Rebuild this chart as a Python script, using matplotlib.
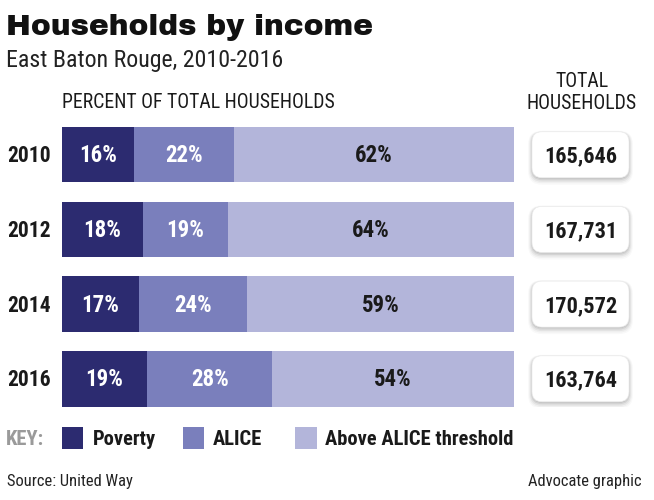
import matplotlib
matplotlib.use("Agg")
import matplotlib.pyplot as plt
from matplotlib.patches import FancyBboxPatch, Rectangle
from matplotlib.transforms import offset_copy
import numpy as np

years = ["2010", "2012", "2014", "2016"]
poverty = [16, 18, 17, 19]
alice = [22, 19, 24, 28]
above = [62, 64, 59, 54]
totals = ["165,646", "167,731", "170,572", "163,764"]
series_names = ["Poverty", "ALICE", "Above ALICE threshold"]
colors = ["#2c2b70", "#7a7fbc", "#b3b5da"]
label_colors = ["white", "white", "#1a1a1a"]

COND = ["Roboto Condensed", "DejaVu Sans"]
TITLE = ["Archivo Black", "DejaVu Sans"]
DARK = "#1a1a1a"

W, H = 654, 500
fig = plt.figure(figsize=(W / 100, H / 100), dpi=100)
fig.patch.set_facecolor("white")
renderer = fig.canvas.get_renderer()


def fx(px):
    return px / W


def fy(py):
    return 1 - py / H


def fit_size(s, target, family, weight, base=20):
    t = fig.text(0, 0, s, fontsize=base, family=family, fontweight=weight)
    w = t.get_window_extent(renderer).width
    t.remove()
    return base * target / w


def ftext(x, yb, s, size, family=COND, weight="normal", ha="left", color=DARK):
    return fig.text(fx(x), fy(yb), s, fontsize=size, family=family, fontweight=weight,
                    ha=ha, va="baseline", color=color)


# sizes fitted to the reference's measured text widths / cap heights
s_title = fit_size("Households by income", 367, TITLE, "normal")
s_sub = fit_size("East Baton Rouge, 2010-2016", 276, COND, "normal")
s_head = fit_size("PERCENT OF TOTAL HOUSEHOLDS", 273, COND, "normal")
s_src = fit_size("Source: United Way", 126, COND, "normal")
s_key = fit_size("Above ALICE threshold", 188, COND, "bold")
s_year = 15.5
s_pct = 16.5
s_tot = 16

# Bars axes
bar_top = 127
spacing = 74.67
barh_px = 55.5
n = len(years)
bar_bot = bar_top + barh_px + spacing * (n - 1)
bh = barh_px / spacing
half = bh / 2
ax = fig.add_axes([fx(62), fy(bar_bot), fx(514) - fx(62), (bar_bot - bar_top) / H])
ax.set_xlim(0, 1)
ax.set_ylim(n - 1 + half, -half)
ax.axis("off")

cap_off = -7.6  # dots: baseline below the centre line
tr_lab = offset_copy(ax.transData, fig=fig, x=0, y=cap_off, units="dots")

data = np.array([poverty, alice, above], dtype=float)
ypos = np.arange(n)
for i in range(n):
    row = data[:, i]
    frac = row / row.sum()
    left = 0
    for j in range(3):
        ax.barh(ypos[i], frac[j], left=left, height=bh, color=colors[j], linewidth=0)
        ax.text(left + frac[j] / 2, ypos[i], f"{int(row[j])}%", ha="center", va="baseline",
                color=label_colors[j], fontsize=s_pct, fontweight="bold", family=COND,
                transform=tr_lab)
        left += frac[j]
    yc = bar_top + barh_px / 2 + i * spacing
    ftext(7, yc + 7.6, years[i], s_year, weight="bold")

# Totals axes
bx0, bx1 = 532, 629
pad = 8
ax2 = fig.add_axes([fx(bx0 - pad), fy(bar_bot), (bx1 - bx0 + 2 * pad) / W, (bar_bot - bar_top) / H])
ax2.set_xlim(-pad, bx1 - bx0 + pad)
ax2.set_ylim(n - 1 + half, -half)
ax2.axis("off")
bw = bx1 - bx0
boxh = 46 / spacing
asp = 1 / spacing
tr_tot = offset_copy(ax2.transData, fig=fig, x=0, y=cap_off - 0.4, units="dots")
for i in range(n):
    y0 = ypos[i] - boxh / 2
    for (g, dy, a) in [(4, 3.0, 0.025), (3, 2.5, 0.035), (2, 2.0, 0.05), (1, 1.5, 0.07), (0, 1.0, 0.08)]:
        sh = FancyBboxPatch((-g, y0 - g * asp + dy * asp), bw + 2 * g, boxh + 2 * g * asp,
                            boxstyle=f"round,pad=0,rounding_size={10 + g}", mutation_aspect=asp,
                            facecolor="black", edgecolor="none", alpha=a)
        ax2.add_patch(sh)
    box = FancyBboxPatch((0, y0), bw, boxh, boxstyle="round,pad=0,rounding_size=10",
                         mutation_aspect=asp, facecolor="white", edgecolor="#ececec", linewidth=0.5)
    ax2.add_patch(box)
    ax2.text(bw / 2, ypos[i], totals[i], ha="center", va="baseline", fontsize=s_tot,
             fontweight="bold", family=COND, color=DARK, transform=tr_tot)

# Titles
ftext(6, 35, "Households by income", s_title, family=TITLE, color="#111111")
ftext(6, 67, "East Baton Rouge, 2010-2016", s_sub, color="#222222")
ftext(62, 108, "PERCENT OF TOTAL HOUSEHOLDS", s_head)
ftext(582, 87, "TOTAL", s_head, ha="center")
ftext(582, 109, "HOUSEHOLDS", s_head, ha="center")

# Key
ftext(6, 445, "KEY:", s_key, weight="bold", color="#9a9a9a")
key_sq = [(62, 83), (183, 204), (295, 317)]
key_txt = [93, 213, 325]
for j in range(3):
    fig.patches.append(Rectangle((fx(key_sq[j][0]), fy(449)), fx(key_sq[j][1]) - fx(key_sq[j][0]),
                                 22 / H, transform=fig.transFigure, facecolor=colors[j], edgecolor="none"))
    ftext(key_txt[j], 445, series_names[j], s_key, weight="bold")

ftext(7, 486, "Source: United Way", s_src, color="#222222")
ftext(642, 486, "Advocate graphic", s_src, ha="right", color="#222222")

fig.savefig("out.png", dpi=100, facecolor="white")
